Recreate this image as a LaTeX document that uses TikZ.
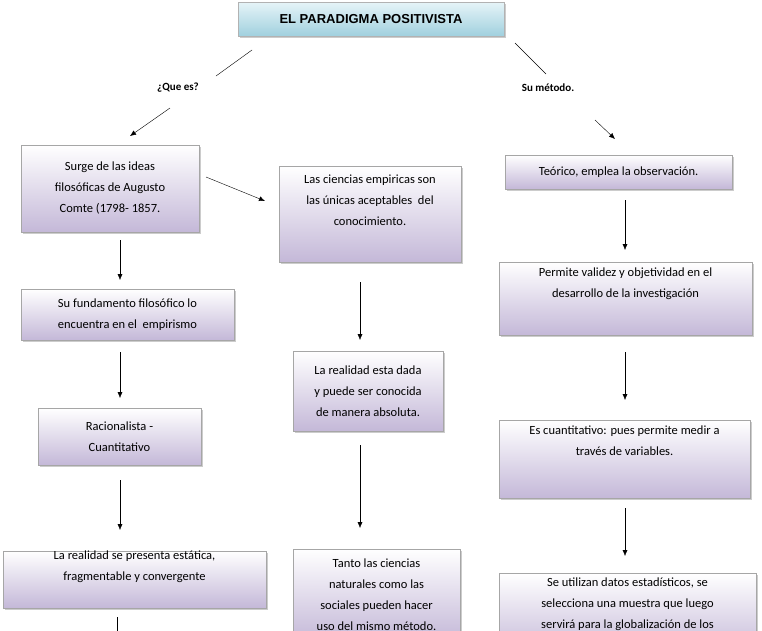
\documentclass[tikz,border=0pt]{standalone}
\usepackage{fontspec}
\setmainfont{Carlito}
\newfontfamily\ttl{Liberation Sans}
\usetikzlibrary{shadows,calc,arrows.meta}
\definecolor{lav}{RGB}{196,184,216}
\definecolor{ttop}{RGB}{230,244,248}
\definecolor{tbot}{RGB}{160,208,222}
\begin{document}
\begin{tikzpicture}[x=1pt,y=-1pt,
 box/.style={draw=gray!70,top color=white,bottom color=lav,drop shadow={shadow xshift=2pt,shadow yshift=-2pt,opacity=.4},align=center,inner sep=0pt,font=\fontsize{12.5}{21}\selectfont},
 arr/.style={-{Latex[length=6pt,width=5pt]},thin},
 lbl/.style={font=\bfseries\fontsize{11}{13}\selectfont}]
\useasboundingbox (0,0) rectangle (762,630);
\newcommand\bx[6]{\node[box,minimum width=#4-#2,minimum height=#5-#3] (#1) at ({(#2+#4)/2},{(#3+#5)/2}) {#6};}
\node[draw=gray!60,top color=ttop,bottom color=tbot,drop shadow={shadow xshift=2pt,shadow yshift=-2pt,opacity=.4},minimum width=266,minimum height=34,font=\ttl\bfseries\fontsize{13}{15}\selectfont] (t) at (371,19) {EL PARADIGMA POSITIVISTA};
\bx{b1}{21}{145}{199}{232}{Surge de las ideas\\filosóficas de Augusto\\Comte (1798- 1857.}
\bx{b2}{279}{166}{461}{262}{Las ciencias empiricas son\\las únicas aceptables\ \ del\\conocimiento.\\[6pt]}
\bx{b3}{505}{155}{732}{189}{Teórico, emplea la observación.}
\bx{b4}{21}{289}{234}{340}{Su fundamento filosófico lo\\encuentra en el\ \ empirismo}
\bx{b5}{293}{351}{443}{431}{La realidad esta dada\\y puede ser conocida\\de manera absoluta.}
\bx{b6}{499}{262}{752}{335}{Permite validez y objetividad en el\\desarrollo de la investigación\\[10pt]}
\bx{b7}{38}{408}{201}{465}{Racionalista -\\Cuantitativo}
\bx{b8}{499}{420}{750}{498}{Es cuantitativo: pues permite medir a\\través de variables.\\[16pt]}
\bx{b9}{3}{551}{266}{608}{La realidad se presenta estática,\\fragmentable y convergente\\[6pt]}
\bx{b10}{293}{549}{460}{641}{Tanto las ciencias\\naturales como las\\sociales pueden hacer\\uso del mismo método.}
\bx{b11}{499}{573}{756}{656}{Se utilizan datos estadísticos, se\\selecciona una muestra que luego\\servirá para la globalización de los\\[2pt]}
\node[lbl] (q) at (178,88) {¿Que es?};
\node[lbl] (m) at (548,88) {Su método.};
\coordinate (q1) at (252,50); \coordinate (q2) at (216,76);
\coordinate (q3) at (170,108); \coordinate (q4) at (130,136);
\coordinate (m1) at (515,43); \coordinate (m2) at (546,74);
\coordinate (m3) at (595,120); \coordinate (m4) at (615,139);
\draw (q1) -- (q2); \draw[arr] (q3) -- (q4);
\draw (m1) -- (m2); \draw[arr] (m3) -- (m4);
\coordinate (c1) at (206,177); \coordinate (c2) at (265,201);
\draw[arr] (c1) -- (c2);
\foreach \x/\a/\b in {120/240/280,120/352/398,120/480/530,360/282/340,360/445/528,625/200/250,625/352/400,625/508/556}{
 \coordinate (s) at (\x,\a); \coordinate (e) at (\x,\b); \draw[arr] (s) -- (e);}
\coordinate (z1) at (117,617); \coordinate (z2) at (117,640); \draw (z1) -- (z2);
\end{tikzpicture}
\end{document}
